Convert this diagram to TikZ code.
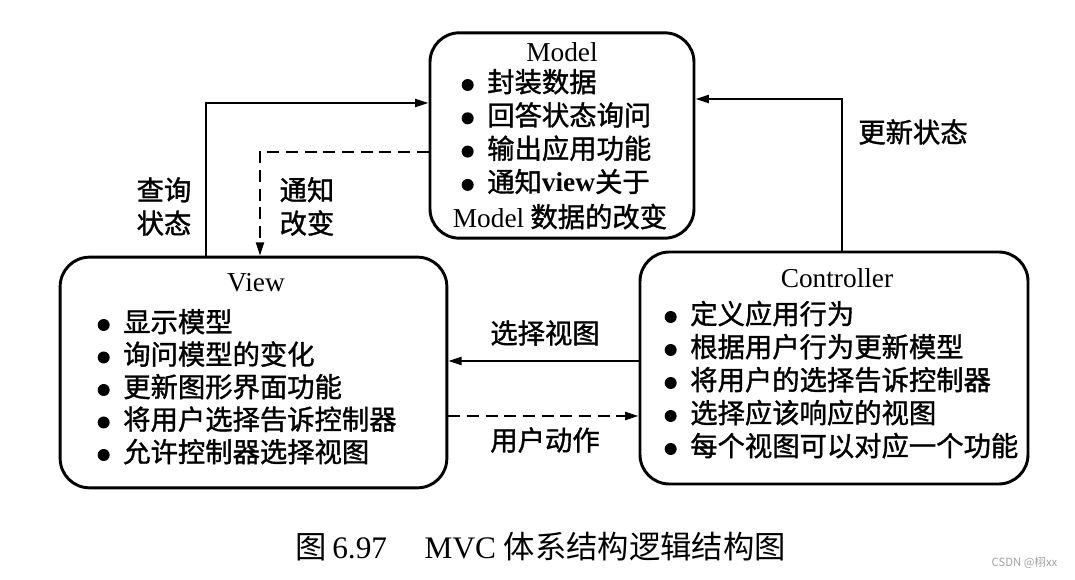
\documentclass[tikz,border=0pt]{standalone}
\usepackage{fontspec}
\setmainfont{Liberation Serif}
\newfontfamily\cjk{Noto Sans CJK SC}
\newfontfamily\cjkfat{Noto Sans CJK SC}[FakeBold=1.3]
\usetikzlibrary{arrows.meta}
\definecolor{markgray}{RGB}{160,160,160}
\newcommand{\boxsize}{\fontsize{20.5pt}{25pt}\selectfont}
\tikzset{
  panel/.style={draw,line width=2.2pt,rounded corners=22pt,inner sep=0pt},
  heading/.style={anchor=base,font=\boxsize},
  entry/.style={anchor=west,inner sep=0pt,text height=0.88em,text depth=0.12em,font=\boxsize\cjkfat},
  tag/.style={align=center,font=\boxsize\cjkfat},
  flow/.style={line width=1.5pt,-{Triangle[length=10pt,width=6pt]}},
  hint/.style={flow,dash pattern=on 9pt off 5pt},
}
\newcommand{\entrydot}[1]{\fill ([xshift=-14.5pt,yshift=1.5pt]#1.west) circle (4.5pt);}

\begin{document}
\begin{tikzpicture}[x=0.75pt,y=-0.75pt]
  \useasboundingbox (0,0) rectangle (1075,580);
  \node[panel,minimum width=198pt,minimum height=154pt] (model) at (562,135.5) {};
  \node[panel,minimum width=290pt,minimum height=173pt] (view) at (253.5,372.5) {};
  \node[panel,minimum width=291pt,minimum height=174pt] (ctrl) at (834,368) {};

  \node[heading] (modeltitle) at (562,62) {Model};
  \foreach \t [count=\i] in {封装数据,回答状态询问,输出应用功能,{通知{\rmfamily\bfseries view}关于}} {
    \node[entry] (m\i) at (487,{87+33.3*(\i-1)}) {\t};
    \entrydot{m\i}
  }
  \node[entry,anchor=center] (mlast) at (560,222) {{\rmfamily Model} 数据的改变};

  \node[heading] (viewtitle) at (256,292) {View};
  \foreach \t [count=\i] in {显示模型,询问模型的变化,更新图形界面功能,将用户选择告诉控制器,允许控制器选择视图} {
    \node[entry] (v\i) at (123,{327+32.5*(\i-1)}) {\t};
    \entrydot{v\i}
  }

  \node[heading] (ctrltitle) at (837,288) {Controller};
  \foreach \t [count=\i] in {定义应用行为,根据用户行为更新模型,将用户的选择告诉控制器,选择应该响应的视图,每个视图可以对应一个功能} {
    \node[entry] (c\i) at (690,{319+33*(\i-1)}) {\t};
    \entrydot{c\i}
  }

  \coordinate (askturn) at (206,103);
  \draw[flow] (view.north -| askturn) |- (model.west |- askturn);
  \coordinate (tellturn) at (260,152);
  \draw[hint] (model.west |- tellturn) -| (view.north -| tellturn);
  \coordinate (setturn) at (842,99);
  \draw[flow] (ctrl.north -| setturn) |- (model.east |- setturn);
  \coordinate (pickrow) at (540,361);
  \draw[flow] (ctrl.west |- pickrow) -- (view.east |- pickrow);
  \coordinate (actrow) at (540,416);
  \draw[hint] (view.east |- actrow) -- (ctrl.west |- actrow);

  \node[tag] (asklabel) at (164,206.5) {查询\\状态};
  \node[tag] (telllabel) at (307,206.5) {通知\\改变};
  \node[tag] (setlabel) at (913,132) {更新状态};
  \node[tag] (picklabel) at (545,333) {选择视图};
  \node[tag] (actlabel) at (545,440) {用户动作};

  \node[anchor=west,font=\fontsize{23.5pt}{28pt}\selectfont] (caption) at (291,547)
    {{\cjk 图}\,6.97\hspace{1.2em}MVC {\cjk 体系结构逻辑结构图}};
  \node[anchor=east,font=\cjk\fontsize{8.5pt}{10pt}\selectfont,text=markgray] (mark) at (1062,563) {CSDN @栩xx};
\end{tikzpicture}
\end{document}
